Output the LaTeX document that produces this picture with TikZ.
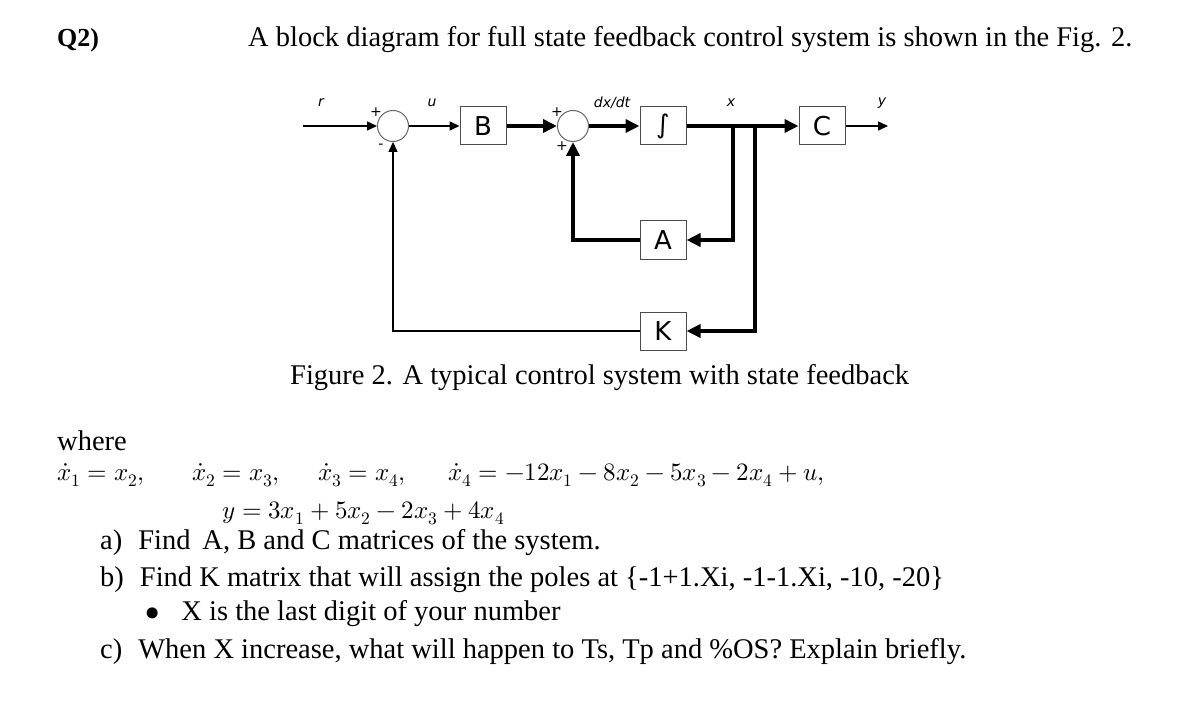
\documentclass[tikz,border=0pt]{standalone}
\usepackage{fontspec}
\usepackage{unicode-math}
\setmainfont{Liberation Serif}
\setmathfont{Latin Modern Math}
\newfontfamily\sansf{DejaVu Sans}
\usetikzlibrary{arrows.meta}
\begin{document}
\begin{tikzpicture}[x=1pt,y=-1pt,
  blk/.style={draw=black!70,line width=1pt,minimum width=46pt,minimum height=38pt,inner sep=0pt,font=\sansf\fontsize{26}{26}\selectfont},
  sum/.style={draw=black!60,line width=1pt,circle,minimum size=31pt,inner sep=0pt},
  thin/.style={line width=1.5pt,-{Triangle[length=10pt,width=9pt]}},
  thick/.style={line width=4pt,-{Triangle[length=14pt,width=13pt]}},
  lab/.style={font=\sansf\itshape\fontsize{14}{14}\selectfont},
  txt/.style={anchor=base west,inner sep=0pt,font=\fontsize{28.5}{32}\selectfont},
  eq/.style={anchor=base west,inner sep=0pt,font=\fontsize{25}{30}\selectfont}]
\useasboundingbox (0,0) rectangle (1182,727);
% text
\node[txt,font=\bfseries\fontsize{26}{30}\selectfont] (q) at (57,47) {Q2)};
\node[txt] (title) at (248,47) {A block diagram for full state feedback control system is shown in the Fig. 2.};
\node[txt] (cap) at (290,384) {Figure 2. A typical control system with state feedback};
\node[txt] (where) at (57,450) {where};
\node[eq] (e1) at (57,480) {$\dot{x}_1 = x_2,$};
\node[eq] (e2) at (192,480) {$\dot{x}_2 = x_3,$};
\node[eq] (e3) at (318,480) {$\dot{x}_3 = x_4,$};
\node[eq] (e4) at (448,480) {$\dot{x}_4 = -12x_1 - 8x_2 - 5x_3 - 2x_4 + u,$};
\node[eq] (e5) at (222,518) {$y = 3x_1 + 5x_2 - 2x_3 + 4x_4$};
\node[txt] (a) at (100,549) {a)\hspace{16pt}Find\, A, B and C matrices of the system.};
\node[txt] (b) at (100,586) {b)\hspace{16pt}Find K matrix that will assign the poles at \{-1+1.Xi, -1-1.Xi, -10, -20\}};
\node[txt] (bul) at (145,620) {$\bullet$\hspace{22pt}X is the last digit of your number};
\node[txt] (c) at (100,658) {c)\hspace{16pt}When X increase, what will happen to Ts, Tp and \%OS? Explain briefly.};
% diagram
\coordinate (r) at (303,126);
\node[sum] (s1) at (393,126) {};
\node[blk] (B) at (483,126) {B};
\node[sum] (s2) at (573,126) {};
\node[blk] (I) at (663,126) {∫};
\node[blk] (C) at (822,126) {C};
\node[blk] (A) at (663,240) {A};
\node[blk] (K) at (663,331) {K};
\coordinate (p1) at (733,126);
\coordinate (p2) at (755,126);
\coordinate (y) at (888,126);
\draw[thin] (r) -- (s1);
\draw[thin] (s1) -- (B);
\draw[thick] (B) -- (s2);
\draw[thick] (s2) -- (I);
\draw[thick] (I) -- (C);
\draw[thin] (C) -- (y);
\draw[thick] (p1) |- (A);
\draw[thick] (p2) |- (K);
\draw[thick] (A) -| (s2);
\draw[thin] (K) -| (s1);
% labels
\node[lab] (lr) at (321,103) {r};
\node[lab] (lu) at (432,103) {u};
\node[lab] (lp1) at (376,112) {+};
\node[lab] (lm1) at (381,146) {-};
\node[lab] (ldx) at (612,103) {dx/dt};
\node[lab] (lp2) at (557,112) {+};
\node[lab] (lp3) at (562,146) {+};
\node[lab] (lx) at (731,103) {x};
\node[lab] (ly) at (882,103) {y};
\end{tikzpicture}
\end{document}
